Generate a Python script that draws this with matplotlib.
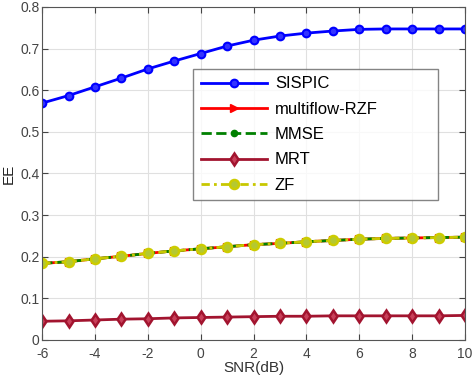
import numpy as np
import matplotlib.pyplot as plt

plt.rcParams['font.family'] = ['Liberation Sans', 'DejaVu Sans']
plt.rcParams['axes.unicode_minus'] = False

snr = np.arange(-6, 11)

sispic = [0.569, 0.587, 0.608, 0.629, 0.651, 0.670, 0.688, 0.706, 0.720,
          0.730, 0.737, 0.742, 0.746, 0.747, 0.747, 0.747, 0.747]
rzf = [0.184, 0.188, 0.195, 0.201, 0.208, 0.214, 0.219, 0.224, 0.229,
       0.232, 0.236, 0.239, 0.242, 0.244, 0.245, 0.246, 0.247]
mmse = [0.184, 0.188, 0.195, 0.201, 0.208, 0.214, 0.219, 0.224, 0.229,
        0.232, 0.236, 0.239, 0.242, 0.244, 0.245, 0.246, 0.247]
mrt = [0.045, 0.046, 0.048, 0.050, 0.051, 0.053, 0.054, 0.055, 0.056,
       0.057, 0.057, 0.058, 0.058, 0.058, 0.058, 0.058, 0.059]
zf = [0.184, 0.188, 0.195, 0.201, 0.208, 0.214, 0.219, 0.224, 0.229,
      0.232, 0.236, 0.239, 0.242, 0.244, 0.245, 0.246, 0.247]

fig = plt.figure(figsize=(4.74, 3.82), dpi=100)
ax = fig.add_axes([0.089, 0.110, 0.892, 0.872])

ax.plot(snr, sispic, color='#0000ff', lw=2, marker='o', ms=5.5, mfc='#3333ff',
        mec='#0000ff', mew=1.5, label='SISPIC')
ax.plot(snr, rzf, color='#ff0000', lw=2, marker='>', ms=5.5, mfc='#ff0000',
        label='multiflow-RZF')
ax.plot(snr, mmse, color='#008000', lw=2, ls='--', marker='o', ms=4.5,
        mfc='#008000', label='MMSE')
ax.plot(snr, mrt, color='#a2142f', lw=2, marker='d', ms=6, mfc='#c8405a',
        mec='#a2142f', mew=1.8, label='MRT')
ax.plot(snr, zf, color='#c8c800', lw=2, ls=(0, (3, 1.5, 1, 1.5)), marker='o',
        ms=6.5, mfc='#b4c832', mec='#cccc00', mew=1.8, label='ZF')

ax.set_xlim(-6, 10)
ax.set_ylim(0, 0.8)
ax.set_xticks(np.arange(-6, 11, 2))
ax.set_yticks(np.arange(0, 0.81, 0.1))
ax.set_yticklabels(['0', '0.1', '0.2', '0.3', '0.4', '0.5', '0.6', '0.7', '0.8'])
ax.grid(True, color='#e0e0e0', lw=0.8)
ax.tick_params(direction='in', top=True, right=True, labelsize=10,
               colors='#444444', length=4, pad=2)
ax.tick_params(axis='x', pad=5)
for s in ax.spines.values():
    s.set_color('#555555')
ax.set_xlabel('SNR(dB)', fontsize=11, color='#333333', labelpad=0)
ax.set_ylabel('EE', fontsize=11, color='#222222', labelpad=3)

leg = ax.legend(loc='upper left', bbox_to_anchor=(0.357, 0.417, 0.579, 0.397),
                mode='expand', fontsize=12, frameon=True, fancybox=False,
                edgecolor='#666666', handlelength=4.0, labelspacing=0.62,
                borderpad=0.45, handletextpad=0.45, borderaxespad=0)
leg.get_frame().set_linewidth(1.0)

fig.savefig('out.png', dpi=100)
